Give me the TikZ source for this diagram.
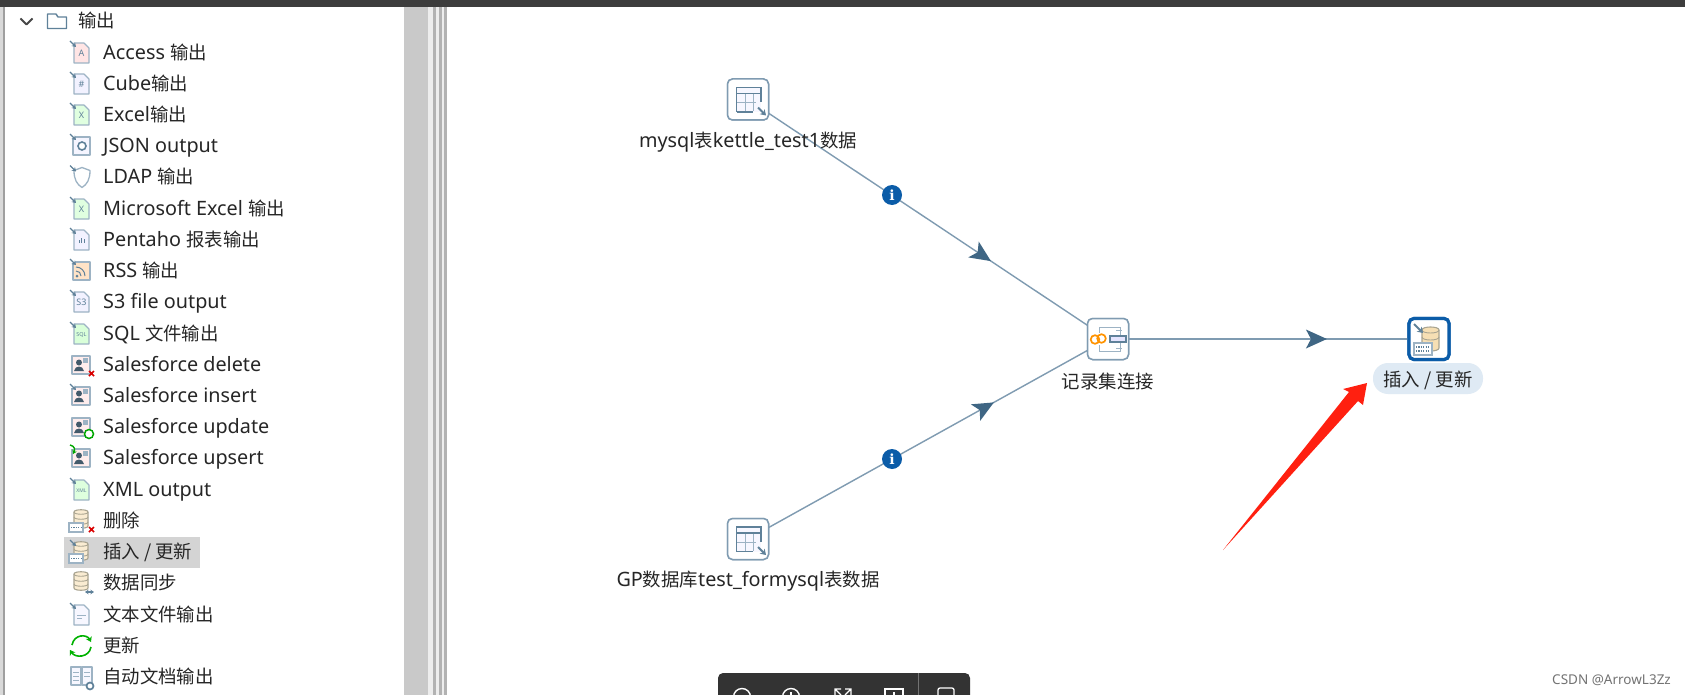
\documentclass[tikz,border=0pt]{standalone}
\usepackage{fontspec}
\setmainfont{Noto Sans}
\newfontfamily\cjk[Scale=0.93]{Noto Sans CJK SC}
\newfontfamily\infoface[BoldFont={DejaVu Serif Bold}]{DejaVu Serif}
\newcommand{\zh}[1]{{\cjk #1}}
\usetikzlibrary{arrows.meta,decorations.markings,calc}
\definecolor{ink}{HTML}{262626}
\definecolor{edge}{HTML}{7F9BB1}
\definecolor{head}{HTML}{3F6684}
\definecolor{iconline}{HTML}{9DB3C4}
\definecolor{icondark}{HTML}{5F8199}
\definecolor{infoblue}{HTML}{0B5CA8}
\definecolor{tan}{HTML}{F6DFB4}
\definecolor{tanline}{HTML}{A9A491}
\definecolor{pill}{HTML}{DFEAF4}
\definecolor{redmark}{HTML}{FF2010}
\tikzset{
  rowtext/.style={anchor=base west,inner sep=0pt,text=ink,font=\fontsize{19.8}{22}\selectfont},
  steplabel/.style={inner sep=0pt,text=ink,font=\fontsize{19.8}{22}\selectfont},
  stepbox/.style={draw=edge,line width=1.5pt,rounded corners=5pt,minimum width=41pt,minimum height=41pt,fill=white,inner sep=0pt},
  hop/.style={draw=edge,line width=1.4pt,postaction={decorate},decoration={markings,mark=at position #1 with {\arrow[head,line width=0pt]{Stealth[length=21pt,width=19pt,inset=5pt]}}}},
  infodot/.style={circle,fill=infoblue,minimum size=20pt,inner sep=0pt,text=white,font=\infoface\bfseries\fontsize{14}{14}\selectfont},
  ic/.style={draw=iconline,line width=1.2pt,line join=round},
  tinyarrow/.style={draw=icondark,line width=1.3pt,-{Stealth[length=4pt,width=5pt]}},
}
\newcommand{\cornerarrow}{\draw[tinyarrow] (-10,-12) -- (-4,-6);}
\newcommand{\docicon}[3]{\begin{scope}[shift={(80,#1)}]
  \draw[ic,fill=#2] (-6,-10) -- (4,-10) -- (9,-5) -- (9,10) -- (-6,10) -- cycle;
  \node[inner sep=0pt,text=icondark,font=\fontsize{9}{9}\selectfont] at (1.5,0.5) {#3};
  \cornerarrow
\end{scope}}
\newcommand{\sficon}[2]{\begin{scope}[shift={(80,#1)}]
  \draw[ic,line width=1.6pt,fill=#2] (-8,-9) rectangle (10,9);
  \fill[icondark!70!black] (-1,-2.5) circle (3);
  \fill[icondark!70!black] (-6,6) .. controls (-5,0) and (3,0) .. (4,6) -- cycle;
  \fill[iconline] (3,-7) rectangle (8,-2);
\end{scope}}
\newcommand{\dbbody}[1]{\begin{scope}[shift={(81,#1)}]
  \draw[tanline,line width=1.1pt,fill=tan!60] (-7,-9) .. controls (-7,-12) and (7,-12) .. (7,-9) -- (7,5) .. controls (7,8) and (-7,8) .. (-7,5) -- cycle;
  \draw[tanline,line width=.9pt] (-7,-9) .. controls (-7,-6) and (7,-6) .. (7,-9);
  \draw[tanline,line width=.9pt] (-7,-4) .. controls (-7,-1) and (7,-1) .. (7,-4);
  \draw[tanline,line width=.9pt] (-7,1) .. controls (-7,4) and (7,4) .. (7,1);
\end{scope}}
\newcommand{\kbd}[1]{\begin{scope}[shift={(80,#1)}]
  \draw[iconline,line width=1.2pt,fill=white] (-11,2) rectangle (3,11);
  \draw[icondark,line width=1pt,dash pattern=on 1.2pt off 1.2pt] (-9,6.5) -- (1,6.5);
\end{scope}}
\begin{document}
\begin{tikzpicture}[x=1pt,y=-1pt]
\useasboundingbox (0,0) rectangle (1685,695);
\clip (0,0) rectangle (1685,695);
\fill[white] (0,0) rectangle (1685,695);
% chrome
\fill[gray!75] (3,7) rectangle (5,695);
\fill[black!15] (0,7) rectangle (3,695);
\fill[black!21] (404,7) rectangle (428,695);
\fill[black!7] (428,7) rectangle (447,695);
\fill[black!30] (433,7) rectangle (436,695);
\fill[black!30] (439,7) rectangle (442,695);
\fill[black!30] (444,7) rectangle (447,695);
\fill[black!76] (0,0) rectangle (1685,7);
% tree header
\draw[ink!85,line width=2pt,line join=round] (20.5,18.5) -- (26.5,24.5) -- (32.5,18.5);
\draw[icondark,line width=1.4pt,line join=round] (47.5,14) -- (56,14) -- (58,17) -- (66.5,17) -- (66.5,28.5) -- (47.5,28.5) -- cycle;
\node[rowtext] (rHead) at (78,28) {\zh{输出}};
% selection
\fill[black!17] (64,537) rectangle (200,568);
% row texts
\node[rowtext] (r1) at (103,59.5) {Access \zh{输出}};
\node[rowtext] (r2) at (103,90.5) {Cube\zh{输出}};
\node[rowtext] (r3) at (103,121.5) {Excel\zh{输出}};
\node[rowtext] (r4) at (103,152.5) {JSON output};
\node[rowtext] (r5) at (103,184) {LDAP \zh{输出}};
\node[rowtext] (r6) at (103,215.5) {Microsoft Excel \zh{输出}};
\node[rowtext] (r7) at (103,246.5) {Pentaho \zh{报表输出}};
\node[rowtext] (r8) at (103,277.5) {RSS \zh{输出}};
\node[rowtext] (r9) at (103,308.5) {S3 file output};
\node[rowtext] (r10) at (103,340.5) {SQL \zh{文件输出}};
\node[rowtext] (r11) at (103,371.5) {Salesforce delete};
\node[rowtext] (r12) at (103,402.5) {Salesforce insert};
\node[rowtext] (r13) at (103,433.5) {Salesforce update};
\node[rowtext] (r14) at (103,464.5) {Salesforce upsert};
\node[rowtext] (r15) at (103,496.5) {XML output};
\node[rowtext] (r16) at (103,527.5) {\zh{删除}};
\node[rowtext] (r17) at (103,558.5) {\zh{插入 / 更新}};
\node[rowtext] (r18) at (103,589.5) {\zh{数据同步}};
\node[rowtext] (r19) at (103,621.5) {\zh{文本文件输出}};
\node[rowtext] (r20) at (103,652.5) {\zh{更新}};
\node[rowtext] (r21) at (103,683.5) {\zh{自动文档输出}};
% row icons
\docicon{53}{red!10}{A}
\docicon{84}{blue!5}{\#}
\docicon{115}{green!12}{X}
\begin{scope}[shift={(80,146)}]
  \draw[ic,line width=1.5pt,fill=blue!4] (-7,-9) rectangle (10,9);
  \draw[icondark,line width=1.6pt,fill=white] (2,0) circle (4);
  \fill[white] (-11,-13) rectangle (-5,-8);
  \cornerarrow
\end{scope}
\begin{scope}[shift={(80,177.5)}]
  \draw[ic,line width=1.3pt] (-6,-7) -- (2,-10) -- (10,-7) .. controls (10,2) and (7,7) .. (2,10) .. controls (-3,7) and (-6,2) .. (-6,-7) -- cycle;
  \cornerarrow
\end{scope}
\docicon{209}{green!12}{X}
\docicon{240}{blue!5}{\rule{1pt}{3pt}\,\rule{1pt}{5pt}\,\rule{1pt}{4pt}}
\begin{scope}[shift={(80,271)}]
  \draw[ic,line width=1.5pt,fill=orange!22] (-7,-9) rectangle (10,9);
  \fill[icondark] (-3,5) circle (1.5);
  \draw[icondark,line width=1pt] (-4,0) .. controls (-1,0) and (1,2) .. (1,5);
  \draw[icondark,line width=1pt] (-4,-4) .. controls (1,-4) and (5,0) .. (5,5);
  \fill[white] (-11,-13) rectangle (-5,-8);
  \cornerarrow
\end{scope}
\docicon{302}{blue!5}{S3}
\docicon{334}{green!15}{\fontsize{5.5}{5.5}\selectfont SQL}
\sficon{365}{red!7}
\draw[red!85!black,line width=1.5pt] (89,371) -- (94,376) (94,371) -- (89,376);
\sficon{396}{red!7}
\fill[white] (69,383) rectangle (75,388);
\draw[tinyarrow] (70,384) -- (76,390);
\sficon{427}{red!7}
\draw[green!65!black,line width=1.5pt,fill=white] (89,434) circle (4.5);
\sficon{458}{red!7}
\fill[white] (69,444) rectangle (75,449);
\draw[green!65!black,line width=1.4pt,-{Stealth[length=4pt,width=5pt]}] (70,445) .. controls (75,446) and (75,450) .. (73,454);
\docicon{490}{green!13}{\fontsize{5}{5}\selectfont XML}
\dbbody{521}\kbd{521}
\draw[red!85!black,line width=1.5pt] (89,527) -- (94,532) (94,527) -- (89,532);
\dbbody{553}\kbd{552}
\draw[tinyarrow] (70,540) -- (76,546);
\dbbody{583}
\draw[icondark,line width=1.1pt,{Stealth[length=3.5pt,width=4.5pt]}-{Stealth[length=3.5pt,width=4.5pt]}] (85,592) -- (94,592);
\begin{scope}[shift={(80,615)}]
  \draw[ic,fill=blue!3] (-6,-10) -- (4,-10) -- (9,-5) -- (9,10) -- (-6,10) -- cycle;
  \draw[iconline,line width=.9pt] (-3,0) -- (6,0) (-3,3) -- (2,3);
  \cornerarrow
\end{scope}
\begin{scope}[shift={(81,646)}]
  \draw[green!70!black,line width=1.6pt,-{Stealth[length=5pt,width=6.5pt]}] (-9,-1) .. controls (-7,-12) and (6,-12) .. (10,-4);
  \draw[green!70!black,line width=1.6pt,-{Stealth[length=5pt,width=6.5pt]}] (10,1) .. controls (8,12) and (-6,12) .. (-11,4);
\end{scope}
\begin{scope}[shift={(81,677)}]
  \draw[ic,line width=1.4pt,fill=blue!3] (-10,-10) rectangle (0,8);
  \draw[ic,line width=1.4pt,fill=blue!3] (1,-10) rectangle (11,8);
  \draw[iconline,line width=.9pt] (-8,-5) -- (-2,-5) (-8,-1) -- (-2,-1) (-8,3) -- (-2,3) (3,-5) -- (9,-5) (3,-1) -- (9,-1);
  \draw[icondark,line width=1.7pt,fill=white] (9,9) circle (3.5);
\end{scope}
% steps
\node[stepbox] (tableA) at (748,99.5) {};
\node[stepbox] (joinC) at (1108,339) {};
\node[stepbox,draw=infoblue,line width=3.2pt,minimum width=40pt,minimum height=41pt] (insertD) at (1429,339) {};
\node[stepbox] (tableB) at (748,539) {};
% connectors
\path[hop=0.675] (tableA.center) -- (joinC.center);
\path[hop=0.683] (tableB.center) -- (joinC.center);
\path[hop=0.682] (joinC.center) -- (insertD.center);
% boxes again, above their connectors
\node[stepbox] at (tableA) {};
\node[stepbox] at (joinC) {};
\node[stepbox,draw=infoblue,line width=3.2pt,minimum width=40pt,minimum height=41pt] at (insertD) {};
\node[stepbox] at (tableB) {};
% table icons
\foreach \cx/\cy in {748/99.5,748/539}{
\begin{scope}[shift={(\cx,\cy)}]
  \fill[blue!3] (-11.5,-12) rectangle (13,12.5);
  \draw[iconline,line width=1pt] (-11.5,3) -- (8,3) (-3,-6) -- (-3,12) (5,-6) -- (5,12);
  \draw[icondark,line width=1.6pt] (-11.5,12.5) -- (-11.5,-12) -- (13,-12) -- (13,3);
  \draw[icondark,line width=1.4pt] (-11.5,-6) -- (13,-6);
  \draw[icondark,line width=1.4pt] (-11.5,12.5) -- (5,12.5);
  \draw[icondark,line width=1.8pt,-{Stealth[length=5.5pt,width=7pt]}] (10,8) -- (18,16);
\end{scope}}
% join icon
\begin{scope}[shift={(1108,339)}]
  \draw[iconline,line width=1pt] (12,-4) -- (12,-12) -- (-9,-12) -- (-9,-6) (-9,6) -- (-9,12) -- (12,12) -- (12,4);
  \draw[iconline,line width=1pt] (8,-9) -- (14,-9) (8,9) -- (14,9);
  \draw[orange!85!yellow,line width=1.7pt] (-13,0.5) circle (4.3);
  \draw[orange!85!yellow,line width=1.7pt] (-6.5,-0.5) circle (4.3);
  \draw[icondark,line width=1.6pt,fill=blue!10] (2,-3) rectangle (18,3);
\end{scope}
% insert icon
\begin{scope}[shift={(1429,339)}]
  \draw[tanline,line width=1.1pt,fill=tan] (-7,-9) .. controls (-7,-13) and (10,-13) .. (10,-9) -- (10,9) .. controls (10,13) and (-7,13) .. (-7,9) -- cycle;
  \draw[tanline,line width=.9pt] (-7,-9) .. controls (-7,-5) and (10,-5) .. (10,-9);
  \draw[tanline,line width=.9pt] (-7,-2) .. controls (-7,2) and (10,2) .. (10,-2);
  \draw[iconline,line width=1.3pt,fill=white] (-15,4) rectangle (3,16);
  \draw[icondark,line width=1.1pt,dash pattern=on 1.2pt off 1.2pt] (-13,8) -- (1,8) (-13,12) -- (1,12);
  \draw[icondark,line width=1.8pt,-{Stealth[length=5.5pt,width=7pt]}] (-15,-15) -- (-6,-6);
\end{scope}
% info badges
\node[infodot] (infoA) at (892,195) {i};
\node[infodot] (infoB) at (892,459) {i};
% labels
\fill[pill,rounded corners=15pt] (1373,363) rectangle (1483,394);
\node[steplabel] (labA) at (748,142) {mysql\zh{表}kettle\_test1\zh{数据}};
\node[steplabel] (labB) at (748,581) {GP\zh{数据库}test\_formysql\zh{表数据}};
\node[steplabel] (labC) at (1108,381) {\zh{记录集连接}};
\node[steplabel] (labD) at (1428,380) {\zh{插入 / 更新}};
% red pointer
\coordinate (redTail) at (1223,550);
\coordinate (redTip) at (1367,383);
\fill[redmark,line join=round] (redTail) -- (1349,392) -- (1343,389) -- (redTip) -- (1363,405) -- (1358,401) -- cycle;
% toolbar
\fill[black!80,rounded corners=5pt] (718,673) rectangle (970,710);
\draw[black!55,line width=1pt] (918,673) -- (918,695);
\draw[white,line width=1.4pt] (742,697) circle (8.5);
\draw[white,line width=1.4pt] (791,697) circle (8.5);
\draw[white,line width=1.4pt] (791,692) -- (791,697);
\draw[white,line width=1.3pt] (835,695) -- (835,689) -- (841,689) (851,695) -- (851,689) -- (845,689) (835,689) -- (841,695) (851,689) -- (845,695);
\draw[white,line width=1.3pt] (885,699) -- (885,689) -- (903,689) -- (903,699) (894,692) -- (894,699);
\draw[white,line width=1.3pt,rounded corners=2pt] (938,699) -- (938,688) -- (954,688) -- (954,699);
% watermark
\node[inner sep=0pt,anchor=east,text=black!55,font=\fontsize{13.5}{15}\selectfont] (mark) at (1671,680) {CSDN @ArrowL3Zz};
\end{tikzpicture}
\end{document}
